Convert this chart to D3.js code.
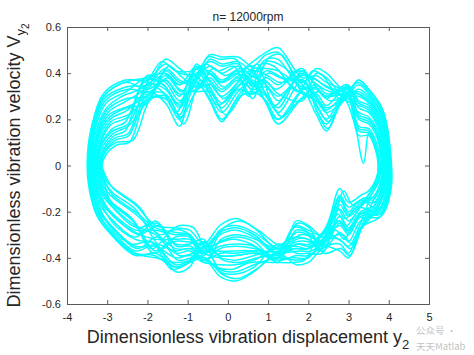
<!DOCTYPE html>
<html><head><meta charset="utf-8">
<script src="https://cdn.jsdelivr.net/npm/d3@7"></script>
<style>body{margin:0;background:#fff}svg{display:block}</style>
</head><body><svg id="c" width="474" height="355"></svg>
<script>
const xTicks = [-4,-3,-2,-1,0,1,2,3,4,5];
const yTicks = [-0.6,-0.4,-0.2,0,0.2,0.4,0.6];
const titleText = "n= 12000rpm";
const watermarkLines = ["公众号 ·", "天天Matlab"];

const orbit01 = [[-3.48,0],[-3.38,0.17],[-3.10,0.31],[-2.55,0.37],[-2.0,0.37],[-1.55,0.44],[-1.2,0.40],[-0.78,0.40],[-0.45,0.48],[-0.15,0.47],[0.25,0.47],[0.62,0.43],[0.95,0.48],[1.25,0.49],[1.85,0.36],[2.2,0.42],[2.45,0.40],[2.95,0.32],[3.25,0.37],[3.5,0.33],[3.85,0.24],[4.05,0],[4.02,-0.12],[3.80,-0.22],[3.3,-0.27],[3.0,-0.38],[2.78,-0.34],[2.35,-0.36],[2.0,-0.42],[1.7,-0.43],[1.25,-0.38],[0.65,-0.46],[0.2,-0.50],[-0.2,-0.48],[-0.6,-0.40],[-0.95,-0.42],[-1.3,-0.44],[-1.8,-0.38],[-2.3,-0.39],[-2.85,-0.31],[-3.25,-0.22],[-3.42,-0.11]];
const orbit02 = [[-3.13,0],[-3.02,0.05],[-2.75,0.09],[-2.45,0.10],[-2.0,0.29],[-1.55,0.29],[-1.2,0.20],[-0.78,0.36],[-0.45,0.28],[-0.15,0.19],[0.25,0.29],[0.62,0.32],[0.95,0.28],[1.25,0.20],[1.85,0.32],[2.2,0.22],[2.45,0.15],[2.95,0.31],[3.37,0.01],[3.5,0.14],[3.64,0.10],[3.74,0],[3.68,-0.06],[3.5,-0.11],[3.3,-0.13],[3.0,-0.16],[2.78,-0.10],[2.35,-0.30],[2.0,-0.28],[1.7,-0.26],[1.25,-0.36],[0.65,-0.27],[0.2,-0.23],[-0.2,-0.26],[-0.6,-0.34],[-0.95,-0.28],[-1.3,-0.27],[-1.8,-0.26],[-2.3,-0.17],[-2.85,-0.10],[-3.0,-0.06],[-3.1,-0.02]];
const orbit03 = [[-3.31,0],[-3.20,0.11],[-2.93,0.20],[-2.50,0.24],[-2.0,0.33],[-1.55,0.40],[-1.2,0.35],[-0.78,0.43],[-0.45,0.34],[-0.15,0.27],[0.25,0.34],[0.62,0.39],[0.95,0.31],[1.25,0.25],[1.85,0.41],[2.2,0.34],[2.45,0.30],[2.95,0.34],[3.25,0.27],[3.5,0.25],[3.76,0.18],[3.92,0],[3.88,-0.10],[3.68,-0.18],[3.3,-0.21],[3.0,-0.28],[2.78,-0.24],[2.35,-0.34],[2.0,-0.39],[1.7,-0.39],[1.25,-0.41],[0.65,-0.35],[0.2,-0.34],[-0.2,-0.35],[-0.6,-0.38],[-0.95,-0.32],[-1.3,-0.32],[-1.8,-0.32],[-2.3,-0.29],[-2.85,-0.22],[-3.13,-0.14],[-3.26,-0.07]];
const orbit04 = [[-3.41,0],[-3.31,0.15],[-3.03,0.27],[-2.53,0.32],[-2.0,0.38],[-1.55,0.34],[-1.2,0.26],[-0.78,0.38],[-0.45,0.43],[-0.15,0.40],[0.25,0.43],[0.62,0.35],[0.95,0.41],[1.25,0.39],[1.85,0.31],[2.2,0.28],[2.45,0.23],[2.95,0.29],[3.25,0.33],[3.5,0.30],[3.82,0.22],[4.0,0],[3.97,-0.11],[3.76,-0.20],[3.3,-0.24],[3.0,-0.33],[2.78,-0.29],[2.35,-0.37],[2.0,-0.32],[1.7,-0.31],[1.25,-0.35],[0.65,-0.41],[0.2,-0.43],[-0.2,-0.43],[-0.6,-0.42],[-0.95,-0.39],[-1.3,-0.40],[-1.8,-0.35],[-2.3,-0.35],[-2.85,-0.27],[-3.2,-0.19],[-3.36,-0.09]];
const orbit05 = [[-3.22,0],[-3.11,0.08],[-2.84,0.14],[-2.48,0.17],[-2.0,0.28],[-1.55,0.37],[-1.2,0.31],[-0.78,0.33],[-0.45,0.38],[-0.15,0.33],[0.25,0.38],[0.62,0.29],[0.95,0.45],[1.25,0.44],[1.85,0.35],[2.2,0.26],[2.45,0.20],[2.95,0.32],[3.25,0.20],[3.5,0.18],[3.69,0.13],[3.82,0],[3.78,-0.08],[3.59,-0.14],[3.3,-0.16],[3.0,-0.21],[2.78,-0.15],[2.35,-0.32],[2.0,-0.35],[1.7,-0.34],[1.25,-0.39],[0.65,-0.31],[0.2,-0.28],[-0.2,-0.30],[-0.6,-0.36],[-0.95,-0.36],[-1.3,-0.36],[-1.8,-0.29],[-2.3,-0.21],[-2.85,-0.14],[-3.06,-0.10],[-3.18,-0.04]];
const orbit06 = [[-3.36,0],[-3.25,0.13],[-2.98,0.23],[-2.52,0.28],[-2.0,0.34],[-1.55,0.46],[-1.2,0.42],[-0.78,0.37],[-0.45,0.46],[-0.15,0.44],[0.25,0.45],[0.62,0.40],[0.95,0.35],[1.25,0.30],[1.85,0.39],[2.2,0.37],[2.45,0.34],[2.95,0.30],[3.25,0.30],[3.5,0.27],[3.78,0.19],[3.95,0],[3.92,-0.10],[3.71,-0.19],[3.3,-0.28],[3.0,-0.40],[2.78,-0.37],[2.35,-0.34],[2.0,-0.29],[1.7,-0.28],[1.25,-0.40],[0.65,-0.38],[0.2,-0.39],[-0.2,-0.39],[-0.6,-0.33],[-0.95,-0.44],[-1.3,-0.46],[-1.8,-0.34],[-2.3,-0.32],[-2.85,-0.25],[-3.16,-0.16],[-3.31,-0.08]];
const orbit07 = [[-3.17,0],[-3.06,0.06],[-2.79,0.11],[-2.46,0.13],[-2.0,0.31],[-1.55,0.31],[-1.2,0.22],[-0.78,0.42],[-0.45,0.31],[-0.15,0.23],[0.25,0.32],[0.62,0.37],[0.95,0.27],[1.25,0.18],[1.85,0.29],[2.2,0.31],[2.45,0.26],[2.95,0.34],[3.25,0.16],[3.5,0.15],[3.65,0.10],[3.77,0],[3.73,-0.07],[3.55,-0.13],[3.3,-0.18],[3.0,-0.24],[2.78,-0.19],[2.35,-0.29],[2.0,-0.36],[1.7,-0.36],[1.25,-0.36],[0.65,-0.29],[0.2,-0.26],[-0.2,-0.28],[-0.6,-0.39],[-0.95,-0.30],[-1.3,-0.29],[-1.8,-0.27],[-2.3,-0.20],[-2.85,-0.13],[-3.03,-0.08],[-3.13,-0.03]];
const orbit08 = [[-3.45,0],[-3.34,0.16],[-3.07,0.29],[-2.54,0.34],[-2.0,0.35],[-1.55,0.42],[-1.2,0.37],[-0.78,0.34],[-0.45,0.40],[-0.15,0.36],[0.25,0.40],[0.62,0.45],[0.95,0.49],[1.25,0.51],[1.85,0.38],[2.2,0.39],[2.45,0.36],[2.95,0.33],[3.25,0.36],[3.5,0.32],[3.84,0.23],[4.03,0],[4.0,-0.12],[3.79,-0.21],[3.3,-0.22],[3.0,-0.30],[2.78,-0.26],[2.35,-0.33],[2.0,-0.40],[1.7,-0.41],[1.25,-0.40],[0.65,-0.43],[0.2,-0.46],[-0.2,-0.45],[-0.6,-0.35],[-0.95,-0.41],[-1.3,-0.42],[-1.8,-0.40],[-2.3,-0.38],[-2.85,-0.30],[-3.23,-0.20],[-3.39,-0.10]];
const orbit09 = [[-3.27,0],[-3.16,0.10],[-2.89,0.18],[-2.49,0.21],[-2.0,0.39],[-1.55,0.36],[-1.2,0.28],[-0.78,0.39],[-0.45,0.45],[-0.15,0.43],[0.25,0.44],[0.62,0.34],[0.95,0.38],[1.25,0.35],[1.85,0.42],[2.2,0.24],[2.45,0.18],[2.95,0.29],[3.25,0.23],[3.5,0.21],[3.72,0.15],[3.87,0],[3.83,-0.09],[3.64,-0.16],[3.3,-0.15],[3.0,-0.18],[2.78,-0.13],[2.35,-0.35],[2.0,-0.33],[1.7,-0.33],[1.25,-0.37],[0.65,-0.37],[0.2,-0.38],[-0.2,-0.38],[-0.6,-0.41],[-0.95,-0.37],[-1.3,-0.38],[-1.8,-0.30],[-2.3,-0.26],[-2.85,-0.18],[-3.1,-0.12],[-3.23,-0.06]];
const orbit10 = [[-3.24,0],[-3.13,0.09],[-2.86,0.15],[-2.48,0.18],[-2.0,0.32],[-1.55,0.27],[-1.2,0.17],[-0.78,0.44],[-0.45,0.36],[-0.15,0.30],[0.25,0.36],[0.62,0.42],[0.95,0.42],[1.25,0.41],[1.85,0.34],[2.2,0.33],[2.45,0.29],[2.95,0.35],[3.25,0.17],[3.5,0.16],[3.67,0.11],[3.79,0],[3.75,-0.07],[3.56,-0.13],[3.3,-0.25],[3.0,-0.35],[2.78,-0.32],[2.35,-0.31],[2.0,-0.26],[1.7,-0.24],[1.25,-0.42],[0.65,-0.33],[0.2,-0.31],[-0.2,-0.33],[-0.6,-0.37],[-0.95,-0.31],[-1.3,-0.31],[-1.8,-0.37],[-2.3,-0.25],[-2.85,-0.17],[-3.08,-0.11],[-3.20,-0.05]];
const orbit11 = [[-3.38,0],[-3.27,0.13],[-3.0,0.24],[-2.52,0.29],[-2.0,0.30],[-1.55,0.39],[-1.2,0.33],[-0.78,0.32],[-0.45,0.32],[-0.15,0.25],[0.25,0.33],[0.62,0.31],[0.95,0.36],[1.25,0.31],[1.85,0.28],[2.2,0.40],[2.45,0.38],[2.95,0.28],[3.25,0.26],[3.5,0.24],[3.75,0.17],[3.90,0],[3.87,-0.09],[3.67,-0.17],[3.3,-0.20],[3.0,-0.27],[2.78,-0.22],[2.35,-0.38],[2.0,-0.38],[1.7,-0.38],[1.25,-0.34],[0.65,-0.44],[0.2,-0.47],[-0.2,-0.46],[-0.6,-0.32],[-0.95,-0.34],[-1.3,-0.34],[-1.8,-0.24],[-2.3,-0.31],[-2.85,-0.24],[-3.18,-0.17],[-3.32,-0.08]];
const orbit12 = [[-3.18,0],[-3.07,0.07],[-2.80,0.12],[-2.47,0.14],[-2.0,0.35],[-1.55,0.33],[-1.2,0.25],[-0.78,0.39],[-0.45,0.41],[-0.15,0.37],[0.25,0.41],[0.62,0.36],[0.95,0.30],[1.25,0.23],[1.85,0.37],[2.2,0.29],[2.45,0.24],[2.95,0.31],[3.25,0.13],[3.5,0.13],[3.63,0.09],[3.74,0],[3.70,-0.06],[3.52,-0.12],[3.3,-0.17],[3.0,-0.22],[2.78,-0.17],[2.35,-0.34],[2.0,-0.30],[1.7,-0.29],[1.25,-0.38],[0.65,-0.30],[0.2,-0.27],[-0.2,-0.29],[-0.6,-0.36],[-0.95,-0.41],[-1.3,-0.43],[-1.8,-0.33],[-2.3,-0.19],[-2.85,-0.12],[-3.04,-0.08],[-3.15,-0.03]];
const orbit13 = [[-3.32,0],[-3.22,0.12],[-2.94,0.21],[-2.51,0.25],[-2.0,0.27],[-1.55,0.41],[-1.2,0.36],[-0.78,0.36],[-0.45,0.29],[-0.15,0.20],[0.25,0.30],[0.62,0.39],[0.95,0.46],[1.25,0.46],[1.85,0.33],[2.2,0.35],[2.45,0.31],[2.95,0.33],[3.25,0.31],[3.5,0.28],[3.79,0.20],[3.97,0],[3.94,-0.11],[3.73,-0.19],[3.3,-0.15],[3.0,-0.20],[2.78,-0.14],[2.35,-0.30],[2.0,-0.36],[1.7,-0.35],[1.25,-0.36],[0.65,-0.39],[0.2,-0.41],[-0.2,-0.40],[-0.6,-0.38],[-0.95,-0.30],[-1.3,-0.30],[-1.8,-0.28],[-2.3,-0.28],[-2.85,-0.21],[-3.14,-0.15],[-3.28,-0.07]];
const orbit14 = [[-3.46,0],[-3.36,0.16],[-3.08,0.30],[-2.55,0.36],[-2.0,0.33],[-1.55,0.37],[-1.2,0.30],[-0.78,0.42],[-0.45,0.37],[-0.15,0.32],[0.25,0.37],[0.62,0.33],[0.95,0.34],[1.25,0.28],[1.85,0.40],[2.2,0.30],[2.45,0.25],[2.95,0.30],[3.25,0.35],[3.5,0.31],[3.83,0.22],[4.02,0],[3.99,-0.11],[3.77,-0.21],[3.3,-0.21],[3.0,-0.29],[2.78,-0.25],[2.35,-0.36],[2.0,-0.32],[1.7,-0.32],[1.25,-0.39],[0.65,-0.36],[0.2,-0.35],[-0.2,-0.36],[-0.6,-0.41],[-0.95,-0.36],[-1.3,-0.37],[-1.8,-0.34],[-2.3,-0.37],[-2.85,-0.29],[-3.24,-0.21],[-3.40,-0.11]];
const orbit15 = [[-3.34,0],[-3.24,0.12],[-2.96,0.22],[-2.43,0.26],[-1.92,0.31],[-1.47,0.43],[-1.12,0.38],[-0.70,0.34],[-0.37,0.42],[-0.07,0.39],[0.33,0.42],[0.70,0.38],[1.03,0.47],[1.33,0.48],[1.93,0.30],[2.28,0.32],[2.53,0.28],[3.03,0.30],[3.25,0.22],[3.5,0.20],[3.71,0.14],[3.85,0],[3.82,-0.08],[3.62,-0.15],[3.38,-0.24],[3.08,-0.34],[2.86,-0.30],[2.43,-0.32],[2.08,-0.37],[1.78,-0.37],[1.33,-0.38],[0.73,-0.40],[0.28,-0.42],[-0.12,-0.41],[-0.52,-0.35],[-0.87,-0.38],[-1.22,-0.39],[-1.72,-0.26],[-2.22,-0.30],[-2.77,-0.23],[-3.15,-0.16],[-3.29,-0.07]];
const orbit16 = [[-3.20,0],[-3.09,0.07],[-2.82,0.13],[-2.55,0.15],[-2.08,0.36],[-1.63,0.32],[-1.28,0.23],[-0.86,0.40],[-0.53,0.33],[-0.23,0.26],[0.17,0.34],[0.54,0.43],[0.87,0.33],[1.17,0.26],[1.77,0.39],[2.12,0.38],[2.37,0.35],[2.87,0.32],[3.25,0.32],[3.5,0.29],[3.80,0.21],[3.98,0],[3.95,-0.11],[3.74,-0.20],[3.22,-0.18],[2.92,-0.23],[2.70,-0.18],[2.27,-0.37],[1.92,-0.28],[1.62,-0.27],[1.17,-0.41],[0.57,-0.34],[0.12,-0.32],[-0.28,-0.34],[-0.68,-0.38],[-1.03,-0.29],[-1.38,-0.28],[-1.88,-0.36],[-2.38,-0.23],[-2.93,-0.15],[-3.05,-0.09],[-3.16,-0.04]];
const orbit17 = [[-3.43,0],[-3.33,0.15],[-3.05,0.28],[-2.49,0.33],[-1.95,0.32],[-1.50,0.38],[-1.15,0.32],[-0.73,0.43],[-0.40,0.39],[-0.10,0.34],[0.30,0.39],[0.67,0.31],[1.00,0.40],[1.30,0.38],[1.90,0.36],[2.25,0.25],[2.50,0.19],[3.00,0.34],[3.25,0.28],[3.5,0.26],[3.77,0.18],[3.93,0],[3.90,-0.10],[3.70,-0.18],[3.35,-0.26],[3.05,-0.36],[2.83,-0.33],[2.40,-0.29],[2.05,-0.34],[1.75,-0.34],[1.30,-0.37],[0.70,-0.45],[0.25,-0.49],[-0.15,-0.47],[-0.55,-0.40],[-0.90,-0.40],[-1.25,-0.41],[-1.75,-0.31],[-2.25,-0.36],[-2.80,-0.28],[-3.21,-0.20],[-3.37,-0.10]];
const orbit18 = [[-3.25,0],[-3.15,0.09],[-2.87,0.16],[-2.54,0.19],[-2.05,0.37],[-1.60,0.35],[-1.25,0.27],[-0.83,0.35],[-0.50,0.47],[-0.20,0.46],[0.20,0.46],[0.57,0.35],[0.90,0.37],[1.20,0.33],[1.80,0.41],[2.15,0.36],[2.40,0.33],[2.90,0.29],[3.25,0.15],[3.5,0.14],[3.64,0.10],[3.75,0],[3.71,-0.07],[3.53,-0.12],[3.25,-0.19],[2.95,-0.26],[2.73,-0.21],[2.30,-0.35],[1.95,-0.40],[1.65,-0.40],[1.20,-0.40],[0.60,-0.37],[0.15,-0.37],[-0.25,-0.37],[-0.65,-0.34],[-1.00,-0.33],[-1.35,-0.33],[-1.85,-0.38],[-2.35,-0.24],[-2.90,-0.16],[-3.09,-0.12],[-3.21,-0.05]];
const orbit19 = [[-3.15,0],[-3.04,0.06],[-2.77,0.10],[-2.36,0.11],[-1.90,0.29],[-1.45,0.28],[-1.10,0.18],[-0.68,0.37],[-0.35,0.30],[-0.05,0.22],[0.35,0.31],[0.72,0.44],[1.05,0.29],[1.35,0.21],[1.95,0.34],[2.30,0.27],[2.55,0.21],[3.05,0.33],[3.25,0.21],[3.5,0.19],[3.70,0.14],[3.84,0],[3.80,-0.08],[3.61,-0.15],[3.40,-0.14],[3.10,-0.17],[2.88,-0.11],[2.45,-0.33],[2.10,-0.31],[1.80,-0.30],[1.35,-0.35],[0.75,-0.28],[0.30,-0.24],[-0.10,-0.27],[-0.50,-0.37],[-0.85,-0.27],[-1.20,-0.26],[-1.70,-0.30],[-2.20,-0.18],[-2.75,-0.11],[-3.01,-0.07],[-3.12,-0.02]];
const orbit20 = [[-3.39,0],[-3.29,0.14],[-3.01,0.25],[-2.63,0.30],[-2.10,0.34],[-1.65,0.45],[-1.30,0.41],[-0.88,0.41],[-0.55,0.44],[-0.25,0.41],[0.15,0.43],[0.52,0.30],[0.85,0.44],[1.15,0.43],[1.75,0.32],[2.10,0.41],[2.35,0.39],[2.85,0.28],[3.25,0.37],[3.5,0.33],[3.85,0.24],[4.07,0],[4.05,-0.11],[3.80,-0.22],[3.20,-0.23],[2.90,-0.32],[2.68,-0.28],[2.25,-0.31],[1.90,-0.41],[1.60,-0.42],[1.15,-0.42],[0.55,-0.42],[0.10,-0.45],[-0.30,-0.44],[-0.70,-0.39],[-1.05,-0.43],[-1.40,-0.45],[-1.90,-0.33],[-2.40,-0.34],[-2.95,-0.26],[-3.19,-0.18],[-3.34,-0.09]];
const orbit21 = [[-3.29,0],[-3.18,0.10],[-2.91,0.19],[-2.47,0.22],[-1.97,0.29],[-1.52,0.30],[-1.17,0.21],[-0.75,0.33],[-0.42,0.35],[-0.12,0.29],[0.28,0.35],[0.65,0.41],[0.98,0.39],[1.28,0.36],[1.88,0.37],[2.23,0.23],[2.48,0.16],[2.98,0.35],[3.25,0.25],[3.5,0.23],[3.74,0.16],[3.89,0],[3.85,-0.09],[3.65,-0.17],[3.33,-0.27],[3.03,-0.39],[2.81,-0.36],[2.38,-0.38],[2.03,-0.27],[1.73,-0.25],[1.28,-0.36],[0.68,-0.32],[0.23,-0.30],[-0.17,-0.32],[-0.57,-0.42],[-0.92,-0.35],[-1.27,-0.35],[-1.77,-0.25],[-2.27,-0.27],[-2.82,-0.19],[-3.11,-0.13],[-3.24,-0.06]];
const orbit22 = [[-3.50,0],[-3.40,0.16],[-3.09,0.30],[-2.58,0.36],[-2.03,0.38],[-1.58,0.40],[-1.23,0.35],[-0.81,0.39],[-0.48,0.40],[-0.18,0.36],[0.22,0.40],[0.59,0.36],[0.92,0.28],[1.22,0.20],[1.82,0.29],[2.17,0.34],[2.42,0.30],[2.92,0.31],[3.25,0.31],[3.5,0.28],[3.80,0.21],[3.99,0],[3.96,-0.11],[3.75,-0.19],[3.27,-0.21],[2.97,-0.28],[2.75,-0.24],[2.32,-0.33],[1.97,-0.36],[1.67,-0.36],[1.22,-0.39],[0.62,-0.38],[0.17,-0.39],[-0.23,-0.39],[-0.63,-0.33],[-0.98,-0.42],[-1.33,-0.44],[-1.83,-0.39],[-2.33,-0.38],[-2.88,-0.30],[-3.27,-0.21],[-3.44,-0.11]];

const orbits = [orbit01,orbit02,orbit03,orbit04,orbit05,orbit06,orbit07,orbit08,orbit09,orbit10,orbit11,
  orbit12,orbit13,orbit14,orbit15,orbit16,orbit17,orbit18,orbit19,orbit20,orbit21,orbit22];

const FONT = "'Liberation Sans', Arial, Helvetica, sans-serif";
const L = 67, R = 429, T = 27, B = 304;
const x = d3.scaleLinear().domain([-4,5]).range([L,R]);
const y = d3.scaleLinear().domain([-0.6,0.6]).range([B,T]);
const svg = d3.select('#c');

const line = d3.line().x(d=>x(d[0])).y(d=>y(d[1])).curve(d3.curveCatmullRomClosed.alpha(0.5));
svg.append('g').selectAll('path').data(orbits).join('path')
  .attr('d', line).attr('fill','none').attr('stroke','#00ffff').attr('stroke-width',1.5);

const fmt = d => String(d);
const axColor = '#5a5a5a';
function styleAxis(g, showLabels){
  g.select('.domain').remove();
  g.selectAll('.tick line').attr('stroke', axColor);
  g.selectAll('.tick text').attr('fill','#262626').style('font-family',FONT).style('font-size','11px');
  if(!showLabels) g.selectAll('.tick text').remove();
}
svg.append('g').attr('transform',`translate(0,${B})`)
  .call(d3.axisBottom(x).tickValues(xTicks).tickFormat(fmt).tickSizeInner(-4).tickSizeOuter(0).tickPadding(9))
  .call(g=>styleAxis(g,true));
svg.append('g').attr('transform',`translate(0,${T})`)
  .call(d3.axisTop(x).tickValues(xTicks).tickSizeInner(-4).tickSizeOuter(0))
  .call(g=>styleAxis(g,false));
svg.append('g').attr('transform',`translate(${L},0)`)
  .call(d3.axisLeft(y).tickValues(yTicks).tickFormat(fmt).tickSizeInner(-4).tickSizeOuter(0).tickPadding(6))
  .call(g=>styleAxis(g,true));
svg.append('g').attr('transform',`translate(${R},0)`)
  .call(d3.axisRight(y).tickValues(yTicks).tickSizeInner(-4).tickSizeOuter(0))
  .call(g=>styleAxis(g,false));
svg.append('rect').attr('x',L).attr('y',T).attr('width',R-L).attr('height',B-T)
  .attr('fill','none').attr('stroke',axColor).attr('stroke-width',1).attr('shape-rendering','crispEdges');

svg.append('text').attr('x',(L+R)/2).attr('y',21).attr('text-anchor','middle')
  .style('font-family',FONT).style('font-size','12px').attr('fill','#262626').text(titleText);

const xl = svg.append('text').attr('x',(L+R)/2).attr('y',343).attr('text-anchor','middle')
  .style('font-family',FONT).style('font-size','18px').attr('fill','#262626');
xl.append('tspan').text('Dimensionless vibration displacement y');
xl.append('tspan').attr('dy',6).style('font-size','13px').text('2');

const yl = svg.append('text').attr('transform',`translate(20,${(T+B)/2}) rotate(-90)`).attr('text-anchor','middle')
  .style('font-family',FONT).style('font-size','18px').attr('fill','#262626');
yl.append('tspan').text('Dimensionless vibration velocity V');
yl.append('tspan').attr('dy',5).style('font-size','13px').text('y');
yl.append('tspan').attr('dy',4).style('font-size','10px').text('2');

svg.append('g').selectAll('text').data(watermarkLines).join('text')
  .attr('x',416).attr('y',(d,i)=>334+i*16)
  .style('font-family',"'Noto Sans CJK SC', sans-serif").style('font-size','9.5px')
  .attr('fill','#9a9a9a').attr('opacity',0.6).text(d=>d);
</script></body></html>
